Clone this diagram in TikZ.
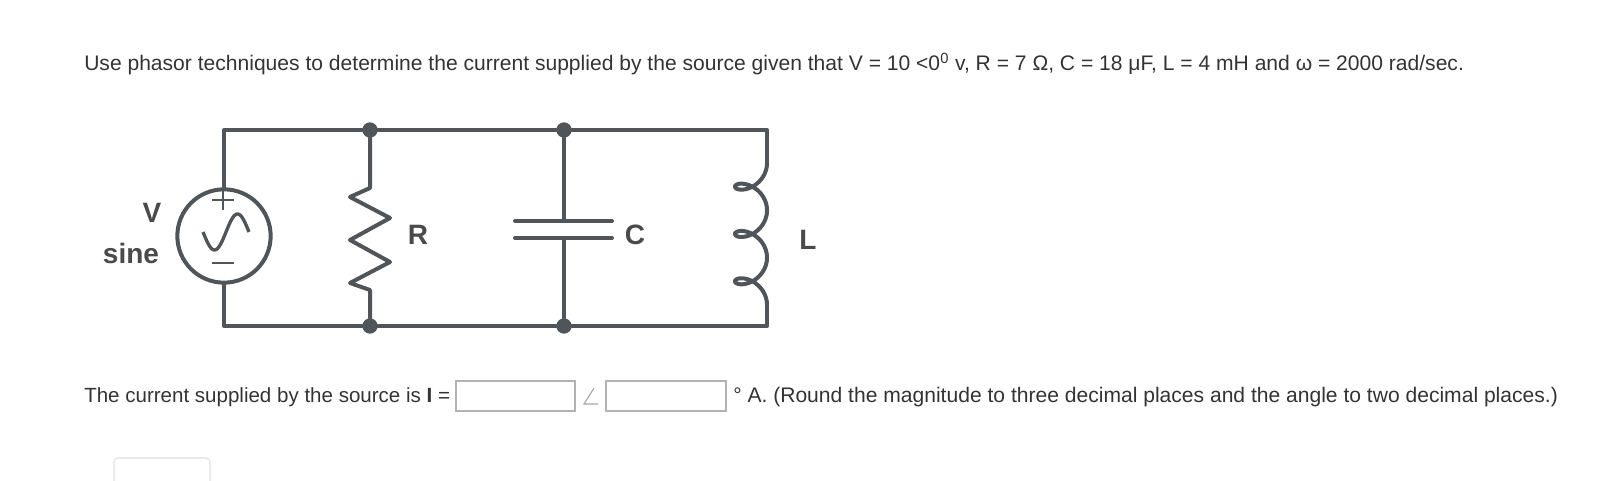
\documentclass[tikz,border=0pt]{standalone}
\usepackage{fontspec}
\setmainfont{Liberation Sans}
\definecolor{wire}{HTML}{4F5558}
\definecolor{txt}{HTML}{333333}
\definecolor{lbl}{HTML}{4A4A4A}
\begin{document}
\begin{tikzpicture}[x=0.75pt,y=-0.75pt,
  w/.style={draw=wire,line width=3pt,line cap=round,line join=round},
  dot/.style={circle,fill=wire,inner sep=0pt,minimum size=11.5pt},
  lab/.style={font=\fontsize{21pt}{23pt}\selectfont\bfseries,text=lbl,inner sep=0pt},
  tx/.style={font=\fontsize{15.8pt}{18pt}\selectfont,text=txt,inner sep=0pt,anchor=west},
  ibox/.style={draw=gray!60,line width=0.8pt}]
\useasboundingbox (0,0) rectangle (1601,481);
\node[tx] (q) at (84,64) {Use phasor techniques to determine the current supplied by the source given that V = 10 <0\textsuperscript{0} v, R = 7 Ω, C = 18 μF, L = 4 mH and ω = 2000 rad/sec.};
% coordinates
\coordinate (tl) at (224,130); \coordinate (bl) at (224,326);
\node[dot] (tR) at (370,130) {}; \node[dot] (bR) at (370,326) {};
\node[dot] (tC) at (564,130) {}; \node[dot] (bC) at (564,326) {};
\coordinate (tr) at (767,130); \coordinate (br) at (767,326);
% source
\node[circle,draw=wire,line width=3pt,minimum size=70pt,inner sep=0pt] (src) at (224,236) {};
\draw[w] (src.north) -- (tl) -- (tR) -- (tC) -- (tr) -- (767,163);
\draw[w] (src.south) -- (bl) -- (bR) -- (bC) -- (br) -- (767,305);
\draw[wire,line width=2pt] (212,200)--(234,200) (223,190)--(223,210) (212,263)--(234,263);
\draw[wire,line width=2.5pt] plot[domain=0:360,samples=50,smooth] ({203+\x/360*46},{232+18*sin(\x)});
% resistor
\draw[w] (tR) -- (370,175) -- (370,188) -- (350,197) -- (390,218) -- (350,240) -- (390,262) -- (350,283) -- (370,290) -- (370,298) -- (bR);
% capacitor
\draw[w] (tC) -- (564,221); \draw[w] (564,238) -- (bC);
\draw[w] (515,221) -- (612,221); \draw[w] (515,238) -- (612,238);
% inductor
\draw[w] plot[domain=180:1260,samples=240,smooth] ({751-16*cos(\x)},{163+0.13142*(\x-180)-12.5*sin(\x)});
% labels
\node[lab] (lV) at (152,213) {V};
\node[lab] (ls) at (131,253) {sine};
\node[lab] (lR) at (418,235) {R};
\node[lab] (lC) at (635,235) {C};
\node[lab] (lL) at (808,240) {L};
% bottom line
\node[tx,font=\fontsize{15.4pt}{18pt}\selectfont] (a) at (84,397) {The current supplied by the source is \textbf{I} =};
\draw[ibox] (456,381) rectangle (575,411);
\draw[gray!70,line width=0.8pt] (594,388) -- (584,404) -- (598,404);
\draw[ibox] (606,381) rectangle (726,411);
\node[tx] (b) at (733,397) {° A. (Round the magnitude to three decimal places and the angle to two decimal places.)};
\draw[draw=gray!25,line width=0.8pt,rounded corners=3pt] (114,490) -- (114,458) -- (210,458) -- (210,490);
\end{tikzpicture}
\end{document}
